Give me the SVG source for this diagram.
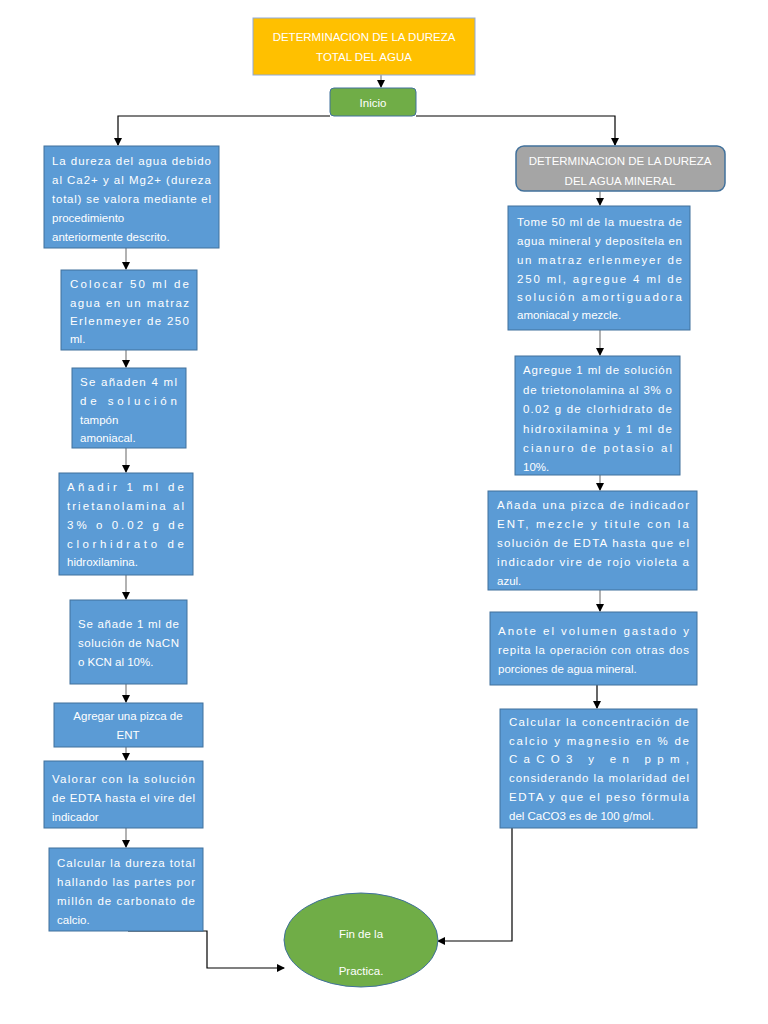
<svg xmlns="http://www.w3.org/2000/svg" width="768" height="1024" viewBox="0 0 768 1024">
<style>
.b{fill:#5B9BD5;stroke:#41719C;stroke-width:1}
text{font-family:"Liberation Sans",Arial,sans-serif;font-size:11.5px;fill:#fff}
.c{text-anchor:middle}
.l{fill:none;stroke:#000;stroke-width:1.2}
.g{fill:none;stroke:#7f7f7f;stroke-width:1.2}
</style>
<defs><marker id="a" markerWidth="8" markerHeight="8" refX="7" refY="4" orient="auto" markerUnits="userSpaceOnUse"><path d="M0,0L8,4L0,8z" fill="#000"/></marker></defs>
<rect width="768" height="1024" fill="#fff"/>
<g id="connectors">
<path class="g" d="M381,75V87" marker-end="url(#a)"/>
<path class="l" d="M330,116H118V145" marker-end="url(#a)"/>
<path class="l" d="M416,116H615V145" marker-end="url(#a)"/>
<path class="g" d="M126,248V269" marker-end="url(#a)"/>
<path class="g" d="M126,350V367" marker-end="url(#a)"/>
<path class="g" d="M126,448V472" marker-end="url(#a)"/>
<path class="g" d="M126,575V599" marker-end="url(#a)"/>
<path class="g" d="M126,684V702" marker-end="url(#a)"/>
<path class="g" d="M126,747V760" marker-end="url(#a)"/>
<path class="g" d="M126,828V847" marker-end="url(#a)"/>
<path class="l" d="M128,931H207V968H284" marker-end="url(#a)"/>
<path class="g" d="M600,191V205" marker-end="url(#a)"/>
<path class="g" d="M600,330V355" marker-end="url(#a)"/>
<path class="g" d="M600,475V490" marker-end="url(#a)"/>
<path class="g" d="M600,590V611" marker-end="url(#a)"/>
<path class="l" d="M597,685V708" marker-end="url(#a)"/>
<path class="l" d="M512,828V941H438" marker-end="url(#a)"/>
</g>
<g id="title"><rect x="253" y="18" width="222" height="57" fill="#FFC000" stroke="#8FAADC"/>
<text class="c" x="364" y="41">DETERMINACION DE LA DUREZA</text><text class="c" x="364" y="61">TOTAL DEL AGUA</text></g>
<g id="inicio"><rect x="330" y="88" width="86" height="28" rx="4" fill="#70AD47" stroke="#41719C"/><text class="c" x="373" y="107">Inicio</text></g>
<g id="L1"><rect class="b" x="44" y="146" width="175" height="102"/>
<text x="52" y="165" textLength="159" lengthAdjust="spacing">La dureza del agua debido</text>
<text x="52" y="184" textLength="159" lengthAdjust="spacing">al Ca2+ y al Mg2+ (dureza</text>
<text x="52" y="203" textLength="159" lengthAdjust="spacing">total) se valora mediante el</text>
<text x="52" y="222">procedimiento</text>
<text x="52" y="241">anteriormente descrito.</text></g>
<g id="L2"><rect class="b" x="61" y="270" width="136" height="80"/>
<text x="70" y="288" textLength="119" lengthAdjust="spacing">Colocar 50 ml de</text>
<text x="70" y="307" textLength="119" lengthAdjust="spacing">agua en un matraz</text>
<text x="70" y="325" textLength="119" lengthAdjust="spacing">Erlenmeyer de 250</text>
<text x="70" y="343">ml.</text></g>
<g id="L3"><rect class="b" x="72" y="368" width="114" height="80"/>
<text x="80" y="386" textLength="97" lengthAdjust="spacing">Se añaden 4 ml</text>
<text x="80" y="405" textLength="97" lengthAdjust="spacing">de solución</text>
<text x="80" y="424">tampón</text>
<text x="80" y="442">amoniacal.</text></g>
<g id="L4"><rect class="b" x="59" y="473" width="134" height="102"/>
<text x="67" y="491" textLength="117" lengthAdjust="spacing">Añadir 1 ml de</text>
<text x="67" y="510" textLength="117" lengthAdjust="spacing">trietanolamina al</text>
<text x="67" y="529" textLength="117" lengthAdjust="spacing">3% o 0.02 g de</text>
<text x="67" y="548" textLength="117" lengthAdjust="spacing">clorhidrato de</text>
<text x="67" y="566">hidroxilamina.</text></g>
<g id="L5"><rect class="b" x="70" y="600" width="117" height="84"/>
<text x="78" y="628" textLength="101" lengthAdjust="spacing">Se añade 1 ml de</text>
<text x="78" y="647" textLength="101" lengthAdjust="spacing">solución de NaCN</text>
<text x="78" y="666">o KCN al 10%.</text></g>
<g id="L6"><rect class="b" x="54" y="703" width="149" height="44"/>
<text class="c" x="128" y="720">Agregar una pizca de</text><text class="c" x="128" y="739">ENT</text></g>
<g id="L7"><rect class="b" x="44" y="761" width="159" height="67"/>
<text x="52" y="783" textLength="143" lengthAdjust="spacing">Valorar con la solución</text>
<text x="52" y="802" textLength="143" lengthAdjust="spacing">de EDTA hasta el vire del</text>
<text x="52" y="821">indicador</text></g>
<g id="L8"><rect class="b" x="49" y="848" width="154" height="83"/>
<text x="57" y="867" textLength="138" lengthAdjust="spacing">Calcular la dureza total</text>
<text x="57" y="886" textLength="138" lengthAdjust="spacing">hallando las partes por</text>
<text x="57" y="905" textLength="138" lengthAdjust="spacing">millón de carbonato de</text>
<text x="57" y="924">calcio.</text></g>
<g id="fin"><ellipse cx="361" cy="940" rx="77" ry="47" fill="#70AD47" stroke="#41719C"/>
<text class="c" x="361" y="938">Fin de la</text><text class="c" x="361" y="975">Practica.</text></g>
<g id="R0"><rect x="516" y="146" width="209" height="45" rx="8" fill="#A5A5A5" stroke="#41719C" stroke-width="1.5"/>
<text class="c" x="620" y="165">DETERMINACION DE LA DUREZA</text><text class="c" x="620" y="185">DEL AGUA MINERAL</text></g>
<g id="R1"><rect class="b" x="508" y="206" width="182" height="124"/>
<text x="517" y="226" textLength="165" lengthAdjust="spacing">Tome 50 ml de la muestra de</text>
<text x="517" y="245" textLength="165" lengthAdjust="spacing">agua mineral y deposítela en</text>
<text x="517" y="264" textLength="165" lengthAdjust="spacing">un matraz erlenmeyer de</text>
<text x="517" y="283" textLength="165" lengthAdjust="spacing">250 ml, agregue 4 ml de</text>
<text x="517" y="301" textLength="165" lengthAdjust="spacing">solución amortiguadora</text>
<text x="517" y="319">amoniacal y mezcle.</text></g>
<g id="R2"><rect class="b" x="515" y="356" width="165" height="119"/>
<text x="523" y="374" textLength="149" lengthAdjust="spacing">Agregue 1 ml de solución</text>
<text x="523" y="394" textLength="149" lengthAdjust="spacing">de trietonolamina al 3% o</text>
<text x="523" y="413" textLength="149" lengthAdjust="spacing">0.02 g de clorhidrato de</text>
<text x="523" y="433" textLength="149" lengthAdjust="spacing">hidroxilamina y 1 ml de</text>
<text x="523" y="452" textLength="149" lengthAdjust="spacing">cianuro de potasio al</text>
<text x="523" y="471">10%.</text></g>
<g id="R3"><rect class="b" x="488" y="491" width="209" height="99"/>
<text x="497" y="509" textLength="192" lengthAdjust="spacing">Añada una pizca de indicador</text>
<text x="497" y="528" textLength="192" lengthAdjust="spacing">ENT, mezcle y titule con la</text>
<text x="497" y="547" textLength="192" lengthAdjust="spacing">solución de EDTA hasta que el</text>
<text x="497" y="566" textLength="192" lengthAdjust="spacing">indicador vire de rojo violeta a</text>
<text x="497" y="585">azul.</text></g>
<g id="R4"><rect class="b" x="490" y="612" width="207" height="73"/>
<text x="498" y="635" textLength="191" lengthAdjust="spacing">Anote el volumen gastado y</text>
<text x="498" y="654" textLength="191" lengthAdjust="spacing">repita la operación con otras dos</text>
<text x="498" y="673">porciones de agua mineral.</text></g>
<g id="R5"><rect class="b" x="500" y="709" width="197" height="119"/>
<text x="509" y="726" textLength="180" lengthAdjust="spacing">Calcular la concentración de</text>
<text x="509" y="745" textLength="180" lengthAdjust="spacing">calcio y magnesio en % de</text>
<text x="509" y="763" textLength="180" lengthAdjust="spacing">CaCO3 y en ppm,</text>
<text x="509" y="782" textLength="180" lengthAdjust="spacing">considerando la molaridad del</text>
<text x="509" y="801" textLength="180" lengthAdjust="spacing">EDTA y que el peso fórmula</text>
<text x="509" y="820">del CaCO3 es de 100 g/mol.</text></g>
</svg>
